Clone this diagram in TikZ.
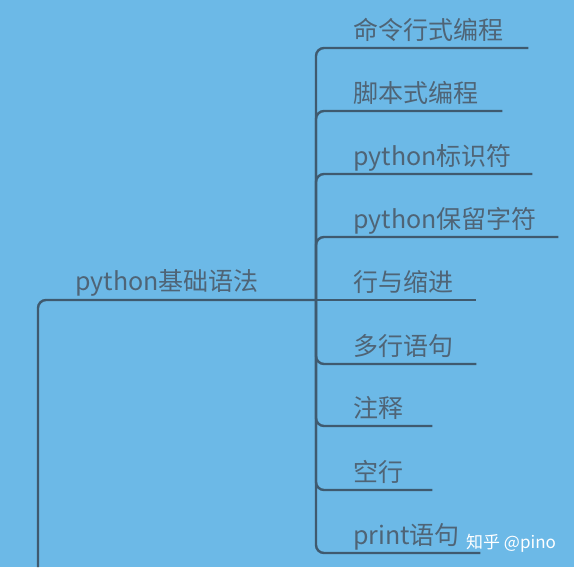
\documentclass[tikz,border=0pt]{standalone}
\usepackage{fontspec}
\setmainfont{Noto Sans CJK SC}
\definecolor{bgblue}{HTML}{6CB9E7}
\definecolor{linec}{HTML}{3F5A6F}
\definecolor{textc}{HTML}{4F6476}
\tikzset{
  leaf/.style={anchor=south west, inner xsep=0pt, inner ysep=3pt, text height=19pt, text depth=5pt,
    align=left, font=\fontsize{25}{25}\selectfont, text=textc},
  rootlbl/.style={anchor=south west, inner xsep=0pt, inner ysep=3pt, text height=19pt, text depth=5pt,
    font=\fontsize{25}{25}\selectfont, text=textc},
  branch/.style={draw=linec, line width=2.4pt, rounded corners=8pt},
  wm/.style={font=\fontsize{17}{17}\selectfont, text=white, inner sep=0pt}
}
\begin{document}
\begin{tikzpicture}[x=1pt,y=-1pt]
\useasboundingbox (0,0) rectangle (574,570);
\fill[bgblue] (0,0) rectangle (574,567);
\fill[white] (0,567) rectangle (574,570);
% hub and spine
\coordinate (hub) at (316,300);
\coordinate (spinetop) at (316,48);
\coordinate (rootstart) at (38,567);
% root
\node[rootlbl] (root) at (75,299) {python基础语法};
\draw[branch] (rootstart) |- (hub);
% children
\node[leaf, text width=175pt] (c1) at (353,48) {命令行式编程};
\node[leaf, text width=149pt] (c2) at (353,111) {脚本式编程};
\node[leaf, text width=179pt] (c3) at (353,174) {python标识符};
\node[leaf, text width=205pt] (c4) at (353,237) {python保留字符};
\node[leaf, text width=123pt] (c5) at (353,300) {行与缩进};
\node[leaf, text width=123pt] (c6) at (353,364) {多行语句};
\node[leaf, text width=79pt] (c7) at (353,426) {注释};
\node[leaf, text width=79pt] (c8) at (353,490) {空行};
\node[leaf, text width=127pt] (c9) at (353,553) {print语句};
\foreach \c in {c1,c2,c3,c4,c6,c7,c8,c9}{
  \draw[branch] (hub) |- (\c.south east);
}
\draw[branch] (hub) -- (c5.south east);
% watermark
\node[wm, anchor=west] (wmark) at (466,543) {知乎 @pino};
\end{tikzpicture}
\end{document}
